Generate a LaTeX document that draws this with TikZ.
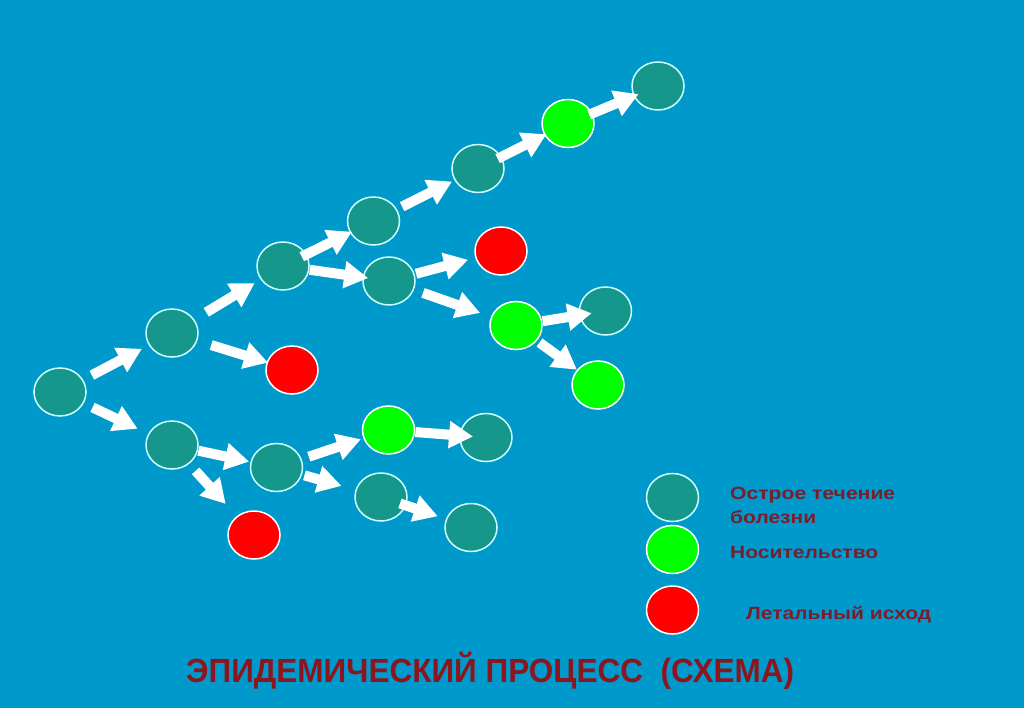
\documentclass[tikz,border=0pt]{standalone}
\usepackage{fontspec}
\setmainfont{Liberation Sans}
\usepackage{graphicx}
\usetikzlibrary{shapes.geometric,arrows.meta}
\definecolor{bgblue}{RGB}{0,153,204}
\definecolor{tealc}{RGB}{22,151,140}
\definecolor{greenc}{RGB}{0,255,0}
\definecolor{redc}{RGB}{255,0,0}
\definecolor{rimc}{RGB}{205,255,255}
\definecolor{titlec}{RGB}{140,22,30}
\definecolor{legc}{RGB}{122,30,45}
\newcommand\fitwidth[2]{\resizebox{#1}{\height}{#2}}
\tikzset{
  cell/.style={ellipse,minimum width=52pt,minimum height=48pt,inner sep=0pt,line width=1.5pt},
  acute/.style={cell,fill=tealc,draw=rimc},
  carrier/.style={cell,fill=greenc,draw=white},
  lethal/.style={cell,fill=redc,draw=white},
  spread/.style={draw=white,line width=10pt,-{Triangle[length=24pt,width=26pt]}},
  legtext/.style={anchor=base west,inner sep=0pt,text=legc,font=\fontsize{17.7}{20}\selectfont\bfseries},
}
\begin{document}
\begin{tikzpicture}[x=1pt,y=-1pt]
\useasboundingbox (0,0) rectangle (1024,708);
\fill[bgblue] (0,0) rectangle (1024,708);
% cells
\node[acute]   (A) at (60,392) {};
\node[acute]   (B) at (172,333) {};
\node[acute]   (C) at (172,445) {};
\node[acute]   (D) at (283,266) {};
\node[lethal]  (E) at (292,370) {};
\node[acute]   (F) at (373.5,221) {};
\node[acute]   (G) at (389,281) {};
\node[acute]   (H) at (478,168.5) {};
\node[lethal]  (I) at (501,251) {};
\node[carrier] (J) at (568,123.5) {};
\node[acute]   (K) at (658,86) {};
\node[carrier] (L) at (516,325.5) {};
\node[acute]   (M) at (605.5,311) {};
\node[carrier] (N) at (598,385) {};
\node[acute]   (O) at (276.5,467.5) {};
\node[lethal]  (P) at (254,535) {};
\node[carrier] (Q) at (388.5,430) {};
\node[acute]   (R) at (486,437.5) {};
\node[acute]   (S) at (381,497) {};
\node[acute]   (T) at (471,527.5) {};
% arrows
\draw[spread,shorten <=36pt,shorten >=34pt] (A.center) -- (B.center);
\draw[spread,shorten <=36pt,shorten >=38pt] (A.center) -- (C.center);
\draw[spread,shorten <=41pt,shorten >=25pt] (B.center) -- (E.center);
\draw[spread,shorten <=40pt,shorten >=33pt] (B.center) -- (D.center);
\draw[spread,shorten <=27pt,shorten >=28pt] (C.center) -- (O.center);
\draw[spread,shorten <=35pt,shorten >=42pt] (C.center) -- (P.center);
\draw[spread,shorten <=34pt,shorten >=29pt] (O.center) -- (Q.center);
\draw[spread,shorten <=29pt,shorten >=41pt] (O.center) -- (S.center);
\draw[spread,shorten <=27pt,shorten >=13pt] (Q.center) -- (R.center);
\draw[spread,shorten <=20pt,shorten >=35pt] (S.center) -- (T.center);
\draw[spread,shorten <=21pt,shorten >=24pt] (D.center) -- (F.center);
\draw[spread,shorten <=27pt,shorten >=21pt] (D.center) -- (G.center);
\draw[spread,shorten <=32pt,shorten >=29pt] (F.center) -- (H.center);
\draw[spread,shorten <=22pt,shorten >=24pt] (H.center) -- (J.center);
\draw[spread,shorten <=23pt,shorten >=21pt] (J.center) -- (K.center);
\draw[spread,shorten <=28pt,shorten >=34pt] (G.center) -- (I.center);
\draw[spread,shorten <=36pt,shorten >=38pt] (G.center) -- (L.center);
\draw[spread,shorten <=27pt,shorten >=14pt] (L.center) -- (M.center);
\draw[spread,shorten <=29pt,shorten >=26pt] (L.center) -- (N.center);
% legend
\node[acute]   (LA) at (672.5,497.5) {};
\node[carrier] (LB) at (672.5,549.5) {};
\node[lethal]  (LC) at (672.5,610) {};
\node[legtext] (t1) at (730,499) {\fitwidth{165pt}{Острое течение}};
\node[legtext] (t2) at (730,523) {\fitwidth{86pt}{болезни}};
\node[legtext] (t3) at (730,558.5) {\fitwidth{148pt}{Носительство}};
\node[legtext] (t4) at (746,619) {\fitwidth{185pt}{Летальный исход}};
% title
\node[anchor=base west,inner sep=0pt,text=titlec,font=\fontsize{33.5}{40}\selectfont\bfseries] (title) at (186,682)
  {\fitwidth{608pt}{ЭПИДЕМИЧЕСКИЙ ПРОЦЕСС\ \ (СХЕМА)}};
\end{tikzpicture}
\end{document}
